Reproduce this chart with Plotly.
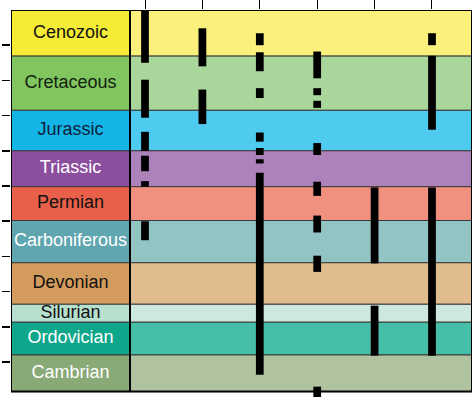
import plotly.graph_objects as go

# ---- data ----
periods = ["Cenozoic", "Cretaceous", "Jurassic", "Triassic", "Permian",
           "Carboniferous", "Devonian", "Silurian", "Ordovician", "Cambrian"]
period_start = [0, 65.5, 142.5, 200, 251, 299, 359, 418, 443.5, 490]
period_end = [65.5, 142.5, 200, 251, 299, 359, 418, 443.5, 490, 542]
label_colors = ["#F7EC35", "#80C55E", "#13B4E6", "#8C4F9F", "#E9604A",
                "#5FA6B0", "#D49C5C", "#B7DFCD", "#0EA78C", "#89A977"]
band_colors = ["#FCF07C", "#A9D69A", "#4ECBEF", "#AD81BA", "#F0907F",
               "#93C4C4", "#E0BC8E", "#CFE8DD", "#46BFA9", "#B0C3A0"]
text_colors = ["#111111", "#112211", "#0D1F3C", "#FFFFFF", "#111111",
               "#FFFFFF", "#111111", "#111111", "#FFFFFF", "#FFFFFF"]

columns = [1, 2, 3, 4, 5, 6]
y_ticks = [50, 100, 150, 200, 250, 300, 350, 400, 450, 500]

# range segments (Ma) per column
seg_col = [1, 1, 1, 1, 1, 1,
           2, 2,
           3, 3, 3, 3, 3, 3, 3,
           4, 4, 4, 4, 4, 4, 4, 4,
           5, 5,
           6, 6, 6]
seg_start = [0, 99, 173, 207, 243, 300,
             26, 113,
             33, 60, 111, 174, 196, 212, 231,
             59, 111, 129, 189, 244, 292, 349, 535,
             252, 420,
             33, 65, 252]
seg_end = [75, 153, 200, 229, 251, 327,
           80, 162,
           50, 87, 125, 187, 206, 218, 518,
           97, 121, 139, 206, 264, 316, 372, 560,
           360, 491,
           50, 170, 491]

# ---- layout constants ----
X0, X1 = -1.3345, 6.697
SEP = 0.7387
LABEL_X = -0.298
Y_RANGE = [549.7, 0]
BOTTOM = period_end[-1]

fig = go.Figure()

shapes = []
for s, e, lc, bc in zip(period_start, period_end, label_colors, band_colors):
    shapes.append(dict(type="rect", xref="x", yref="y", x0=X0, x1=SEP, y0=s, y1=e,
                       fillcolor=lc, line=dict(color="#3a3a3a", width=1), layer="below"))
    shapes.append(dict(type="rect", xref="x", yref="y", x0=SEP, x1=X1, y0=s, y1=e,
                       fillcolor=bc, line=dict(color="#3a3a3a", width=1), layer="below"))

fig.add_trace(go.Bar(
    x=seg_col,
    y=[e - s for s, e in zip(seg_start, seg_end)],
    base=seg_start,
    width=0.135,
    marker=dict(color="black", line=dict(width=0)),
    hoverinfo="skip",
    showlegend=False,
))

fig.add_trace(go.Scatter(
    x=[LABEL_X] * len(periods),
    y=[(s + e) / 2 for s, e in zip(period_start, period_end)],
    mode="text",
    text=periods,
    textposition="middle center",
    textfont=dict(family="Liberation Sans, Arial, sans-serif", size=18, color=text_colors),
    cliponaxis=False,
    hoverinfo="skip",
    showlegend=False,
))

# frame and separator
shapes.append(dict(type="rect", xref="x", yref="y", x0=X0, x1=X1, y0=0, y1=BOTTOM,
                   line=dict(color="black", width=2), fillcolor="rgba(0,0,0,0)", layer="above"))
shapes.append(dict(type="line", xref="x", yref="y", x0=SEP, x1=SEP, y0=0, y1=BOTTOM,
                   line=dict(color="black", width=2), layer="above"))

fig.update_layout(
    width=474, height=397,
    margin=dict(l=11, r=2, t=10, b=0, pad=0),
    paper_bgcolor="white", plot_bgcolor="white",
    shapes=shapes,
    barmode="overlay",
    xaxis=dict(range=[X0, X1], tickvals=columns, ticks="outside", side="top",
               ticklen=10, tickwidth=1, tickcolor="black", showticklabels=False,
               showgrid=False, zeroline=False, showline=False, automargin=False),
    yaxis=dict(range=Y_RANGE, tickvals=y_ticks, ticks="outside", ticklen=8,
               tickwidth=1.5, tickcolor="black", showticklabels=False,
               showgrid=False, zeroline=False, showline=False, automargin=False),
)

fig.write_html(
    "out.html",
    config={"displayModeBar": False, "staticPlot": True},
    post_script="document.body.style.margin='0';document.body.style.overflow='hidden';",
)
